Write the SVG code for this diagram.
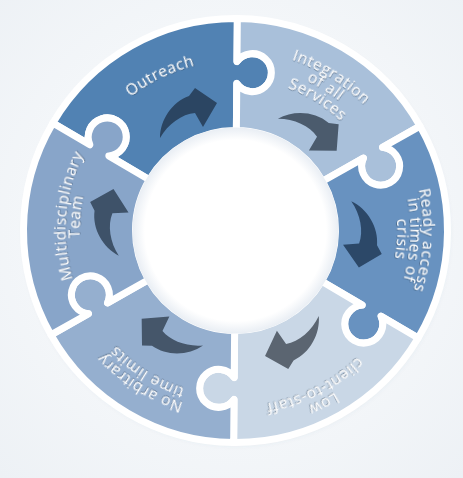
<svg xmlns="http://www.w3.org/2000/svg" width="463" height="478" viewBox="0 0 463 478">
<defs>
<radialGradient id="bg" cx="50%" cy="48%" r="72%"><stop offset="0" stop-color="#fdfeff"/><stop offset="1" stop-color="#edf1f5"/></radialGradient>
<radialGradient id="hole" cx="50%" cy="50%" r="50%"><stop offset="0.88" stop-color="#ffffff"/><stop offset="1" stop-color="#e9eef4"/></radialGradient>
<filter id="shadow" x="-10%" y="-10%" width="120%" height="120%"><feDropShadow dx="1" dy="2" stdDeviation="3" flood-color="#4d6a8a" flood-opacity="0.26"/></filter>
<filter id="ts" x="-5%" y="-20%" width="110%" height="140%"><feDropShadow dx="0.6" dy="0.8" stdDeviation="0.6" flood-color="#2a3f57" flood-opacity="0.55"/></filter>
<path id="piece" d="M -183.60 -106 A 212 212 0 0 1 0 -212 L 0 -168.99 A 19 19 0 1 1 0 -147.01 L 0 -100 A 100 100 0 0 0 -86.60 -50 L -127.31 -73.51 A 19 19 0 1 0 -146.35 -84.50 Z"/>
<path id="arrow" d="M -75.5 -92.5 C -75.5 -110.5 -63.5 -128.5 -46.5 -134.5 L -40.5 -142.5 L -18.5 -127.5 L -32.5 -103.5 L -40.5 -117.5 C -53.5 -116.5 -67.5 -106.5 -75.5 -92.5 Z"/>
<path id="r152" d="M -152 0 A 152 152 0 0 1 152 0"/>
<path id="r156" d="M -156 0 A 156 156 0 0 1 156 0"/>
<path id="r162" d="M -162 0 A 162 162 0 0 1 162 0"/>
<path id="r166" d="M -166 0 A 166 166 0 0 1 166 0"/>
<path id="r170" d="M -170 0 A 170 170 0 0 1 170 0"/>
<path id="r175" d="M -175 0 A 175 175 0 0 1 175 0"/>
<path id="r176" d="M -176 0 A 176 176 0 0 1 176 0"/>
<path id="r180" d="M -180 0 A 180 180 0 0 1 180 0"/>
<path id="r188" d="M -188 0 A 188 188 0 0 1 188 0"/>
<path id="r190" d="M -190 0 A 190 190 0 0 1 190 0"/>
</defs>
<style>
.pc{stroke:#ffffff;stroke-width:7;stroke-linejoin:round}
.lbl{font-family:"Open Sans","DejaVu Sans",sans-serif;fill:#ffffff;font-size:15.5px;letter-spacing:0.6px;text-anchor:middle;filter:url(#ts)}
</style>
<rect width="463" height="478" fill="url(#bg)"/>
<circle cx="235.5" cy="230.5" r="210" fill="#ffffff" filter="url(#shadow)"/>

<g id="n-outreach">
<use href="#piece" class="pc" fill="#5182b3" transform="translate(235.5 230.5) rotate(0.5)"/>
<text class="lbl" font-size="19" transform="translate(235.5 230.5) rotate(-26)"><textPath href="#r170" startOffset="50%">Outreach</textPath></text>
</g>
<g id="n-integration">
<use href="#piece" class="pc" fill="#a9c0da" transform="translate(235.5 230.5) rotate(60.5)"/>
<text class="lbl" transform="translate(235.5 230.5) rotate(32)"><textPath href="#r180" startOffset="50%">Integration</textPath></text>
<text class="lbl" transform="translate(235.5 230.5) rotate(32)"><textPath href="#r166" startOffset="50%">of all</textPath></text>
<text class="lbl" transform="translate(235.5 230.5) rotate(32)"><textPath href="#r152" startOffset="50%">Services</textPath></text>
</g>
<g id="n-ready">
<use href="#piece" class="pc" fill="#6892c0" transform="translate(235.5 230.5) rotate(120.5)"/>
<text class="lbl" transform="translate(235.5 230.5) rotate(93)"><textPath href="#r188" startOffset="50%">Ready access</textPath></text>
<text class="lbl" transform="translate(235.5 230.5) rotate(93)"><textPath href="#r175" startOffset="50%">in times of</textPath></text>
<text class="lbl" transform="translate(235.5 230.5) rotate(93)"><textPath href="#r162" startOffset="50%">crisis</textPath></text>
</g>
<g id="n-low">
<use href="#piece" class="pc" fill="#c9d7e6" transform="translate(235.5 230.5) rotate(180.5)"/>
<text class="lbl" transform="translate(235.5 230.5) rotate(153)"><textPath href="#r190" startOffset="50%">Low</textPath></text>
<text class="lbl" transform="translate(235.5 230.5) rotate(153)"><textPath href="#r176" startOffset="50%">client-to-staff</textPath></text>
</g>
<g id="n-noarbitrary">
<use href="#piece" class="pc" fill="#95afcf" transform="translate(235.5 230.5) rotate(240.5)"/>
<text class="lbl" transform="translate(235.5 230.5) rotate(212)"><textPath href="#r180" startOffset="50%">No arbitrary</textPath></text>
<text class="lbl" transform="translate(235.5 230.5) rotate(212)"><textPath href="#r166" startOffset="50%">time limits</textPath></text>
</g>
<g id="n-multi">
<use href="#piece" class="pc" fill="#88a5c9" transform="translate(235.5 230.5) rotate(300.5)"/>
<text class="lbl" transform="translate(235.5 230.5) rotate(275)"><textPath href="#r170" startOffset="50%">Multidisciplinary</textPath></text>
<text class="lbl" transform="translate(235.5 230.5) rotate(275)"><textPath href="#r156" startOffset="50%">Team</textPath></text>
</g>

<circle id="hole-center" cx="235.5" cy="230.5" r="103" fill="url(#hole)"/>

<g id="connectors">
<use href="#arrow" fill="#2b4562" transform="translate(235.5 230.5) rotate(0)"/>
<use href="#arrow" fill="#4b5b6d" transform="translate(235.5 230.5) rotate(60)"/>
<use href="#arrow" fill="#2c4868" transform="translate(235.5 230.5) rotate(115)"/>
<use href="#arrow" fill="#5b6571" transform="translate(235.5 230.5) rotate(175)"/>
<use href="#arrow" fill="#45566a" transform="translate(235.5 230.5) rotate(235)"/>
<use href="#arrow" fill="#3e5269" transform="translate(235.5 230.5) rotate(297)"/>
</g>
</svg>
